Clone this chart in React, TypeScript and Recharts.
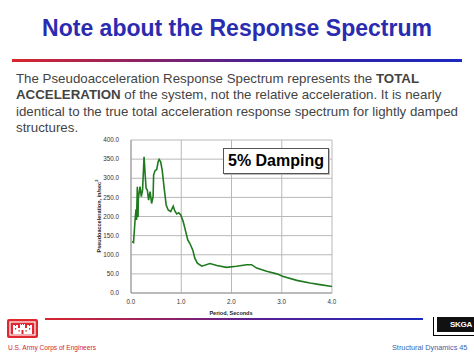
import React from 'react';
import { LineChart, Line, XAxis, YAxis, CartesianGrid } from 'recharts';

const periods = [
  0.02, 0.05, 0.086, 0.1, 0.11, 0.126, 0.14, 0.146, 0.18, 0.205, 0.23, 0.26, 0.28, 0.3, 0.325, 0.35, 0.38, 0.41, 0.44,
  0.45, 0.48, 0.51, 0.54, 0.56, 0.59, 0.62, 0.66, 0.7, 0.74, 0.79, 0.84, 0.87, 0.91, 0.95, 0.99, 1.04, 1.08, 1.13,
  1.17, 1.23, 1.27, 1.32, 1.41, 1.57, 1.71, 1.9, 2.1, 2.3, 2.4, 2.5, 2.7, 2.9, 3.03, 3.3, 3.56, 3.76, 4.0,
];
const accel = [
  134, 132, 200, 219, 191, 278, 198, 247, 278, 252, 269, 356, 313, 274, 269, 243, 265, 234, 252,
  309, 320, 322, 343, 349, 343, 322, 274, 230, 217, 213, 227, 215, 207, 210, 204, 186, 165, 139,
  130, 112, 91, 78, 70, 77, 72, 67, 70, 74, 74, 65, 57, 50, 43, 33, 26, 22, 17,
];
const xTicks = [0, 1, 2, 3, 4];
const yTicks = [0, 50, 100, 150, 200, 250, 300, 350, 400];

const data = periods.map((t, i) => ({ t, a: accel[i] }));

const FONT = '"Liberation Sans", Arial, Helvetica, sans-serif';

function Castle() {
  return (
    <svg width={31} height={19} style={{ position: 'absolute', left: 7, top: 319 }}>
      <rect x={0} y={0} width={31} height={19} rx={2} fill="#e0262e" />
      <rect x={3} y={3} width={25} height={13} fill="none" stroke="#fff" strokeWidth={1.2} />
      <path d="M6 15 V6 H8 V7 H9 V6 H11 V9 H13 V5 H14 V6 H15 V5 H16 V6 H17 V5 H18 V9 H20 V6 H22 V7 H23 V6 H25 V15 Z" fill="#fff" />
      <rect x={14.5} y={11} width={2} height={4} fill="#e0262e" />
      <rect x={8} y={9} width={1.2} height={1.6} fill="#e0262e" />
      <rect x={22} y={9} width={1.2} height={1.6} fill="#e0262e" />
      <rect x={11.5} y={11} width={1.2} height={1.6} fill="#e0262e" />
      <rect x={18.5} y={11} width={1.2} height={1.6} fill="#e0262e" />
    </svg>
  );
}

const lineStyle = { height: 16.3, lineHeight: '16.3px', whiteSpace: 'nowrap' as const };

export default function App() {
  const tick = { fontSize: 6.3, fill: '#333', fontFamily: FONT };
  return (
    <div style={{ position: 'absolute', left: 0, top: 0, width: 474, height: 355, background: '#fff', fontFamily: FONT, overflow: 'hidden' }}>
      <div style={{ position: 'absolute', left: 0, width: 474, top: 15, textAlign: 'center', fontSize: 23, fontWeight: 700, color: '#2b2bb0', whiteSpace: 'nowrap' }}>
        Note about the Response Spectrum
      </div>
      <div style={{ position: 'absolute', left: 12, top: 59, width: 450, height: 3, background: 'linear-gradient(to right, #d8262e, #3b1fa0 60%, #1a2ac0)' }} />
      <div style={{ position: 'absolute', left: 16, top: 71, width: 450, fontSize: 13.3, color: '#444' }}>
        <div style={lineStyle}>
          The Pseudoacceleration Response Spectrum represents the <b>TOTAL</b>
        </div>
        <div style={lineStyle}>
          <b>ACCELERATION</b> of the system, not the relative acceleration. It is nearly
        </div>
        <div style={lineStyle}>identical to the true total acceleration response spectrum for lightly damped</div>
        <div style={lineStyle}>structures.</div>
      </div>

      <div style={{ position: 'absolute', left: 90, top: 130 }}>
        <LineChart width={260} height={190} data={data} margin={{ top: 10, right: 18, left: 6, bottom: 15 }}>
          <CartesianGrid stroke="#b8b8b8" strokeWidth={1} />
          <XAxis
            dataKey="t"
            type="number"
            domain={[0, 4]}
            ticks={xTicks}
            tickFormatter={(v: number) => v.toFixed(1)}
            tick={tick}
            tickLine={false}
            tickSize={4}
            tickMargin={3}
            height={12}
            axisLine={{ stroke: '#999' }}
            interval={0}
          />
          <YAxis
            type="number"
            domain={[0, 400]}
            ticks={yTicks}
            tickFormatter={(v: number) => v.toFixed(1)}
            tick={tick}
            tickLine={false}
            tickSize={6}
            tickMargin={6}
            width={35}
            axisLine={{ stroke: '#999' }}
            interval={0}
          />
          <Line dataKey="a" type="linear" stroke="#1f7a1f" strokeWidth={1.6} dot={false} isAnimationActive={false} />
        </LineChart>
      </div>

      <div style={{ position: 'absolute', left: 223, top: 148, width: 104, height: 24, border: '1px solid #555', background: '#fff', boxShadow: '1px 1px 0 #bbb', display: 'flex', alignItems: 'center', justifyContent: 'center', fontSize: 16, fontWeight: 700, color: '#000' }}>
        5% Damping
      </div>
      <div style={{ position: 'absolute', left: 59, top: 212, width: 80, height: 8, lineHeight: '8px', textAlign: 'center', transform: 'rotate(-90deg)', fontSize: 5.5, fontWeight: 700, color: '#222', whiteSpace: 'nowrap' }}>
        Pseudoacceleration, in/sec<sup style={{ fontSize: 4, lineHeight: 0 }}>2</sup>
      </div>
      <div style={{ position: 'absolute', left: 191, top: 309, width: 80, height: 8, lineHeight: '8px', textAlign: 'center', fontSize: 5.5, fontWeight: 700, color: '#222', whiteSpace: 'nowrap' }}>
        Period, Seconds
      </div>

      <div style={{ position: 'absolute', left: 45, top: 318, width: 378, height: 2, background: 'linear-gradient(to right, #d8262e, #5a1f90 55%, #1a2ac0)' }} />
      <Castle />
      <div style={{ position: 'absolute', left: 8, top: 344, fontSize: 6.6, color: '#d0262e', whiteSpace: 'nowrap' }}>
        U.S. Army Corps of Engineers
      </div>
      <div style={{ position: 'absolute', left: 433, top: 317, width: 41, height: 19, borderLeft: '1.5px solid #000', borderBottom: '1.5px solid #000', boxSizing: 'border-box' }}>
        <div style={{ position: 'absolute', left: 3, top: 0, right: 0, bottom: 3, background: '#111', color: '#fff', fontSize: 8, fontWeight: 700, display: 'flex', alignItems: 'center', justifyContent: 'flex-end', paddingRight: 2, letterSpacing: -0.3 }}>
          SKGA
        </div>
      </div>
      <div style={{ position: 'absolute', left: 392, top: 343, fontSize: 7.3, color: '#3a5fae', whiteSpace: 'nowrap' }}>
        Structural Dynamics 45
      </div>
    </div>
  );
}
